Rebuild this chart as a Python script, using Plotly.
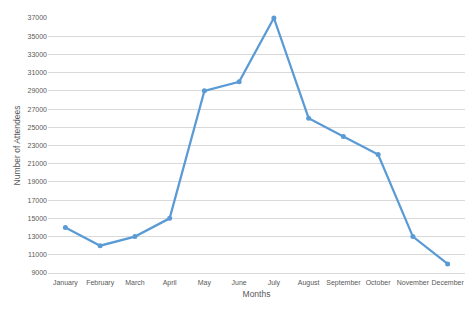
import plotly.graph_objects as go

months = ["January", "February", "March", "April", "May", "June", "July",
          "August", "September", "October", "November", "December"]
attendees = [14000, 12000, 13000, 15000, 29000, 30000, 37000,
             26000, 24000, 22000, 13000, 10000]
y_ticks = list(range(9000, 37001, 2000))

fig = go.Figure()
fig.add_trace(go.Scatter(
    x=months, y=attendees, mode="lines+markers",
    line=dict(color="#5b9bd5", width=2.25),
    marker=dict(color="#5b9bd5", size=5),
    cliponaxis=False,
))

fig.update_layout(
    width=474, height=310,
    margin=dict(l=48, r=9, t=18, b=37),
    paper_bgcolor="white", plot_bgcolor="white",
    showlegend=False,
    font=dict(family="Liberation Sans, Arial", color="#595959", size=7),
    xaxis=dict(
        range=[-0.5, 11.5],
        showgrid=False, zeroline=False,
        showline=True, linecolor="#d9d9d9", linewidth=1,
        ticks="outside", ticklen=3, tickcolor="rgba(0,0,0,0)", tickangle=0, automargin=False,
        tickfont=dict(size=7, color="#595959"),
        title=dict(text="Months", font=dict(size=8.5, color="#595959"), standoff=4),
    ),
    yaxis=dict(
        range=[9000, 37000],
        tickvals=y_ticks,
        ticktext=[str(v) for v in y_ticks],
        showgrid=True, gridcolor="#d9d9d9", gridwidth=1,
        zeroline=False, showline=False, ticks="", automargin=False,
        tickfont=dict(size=7, color="#595959"),
        title=dict(text="Number of Attendees", font=dict(size=8.5, color="#595959"), standoff=5),
    ),
)

fig.write_html("out.html")
